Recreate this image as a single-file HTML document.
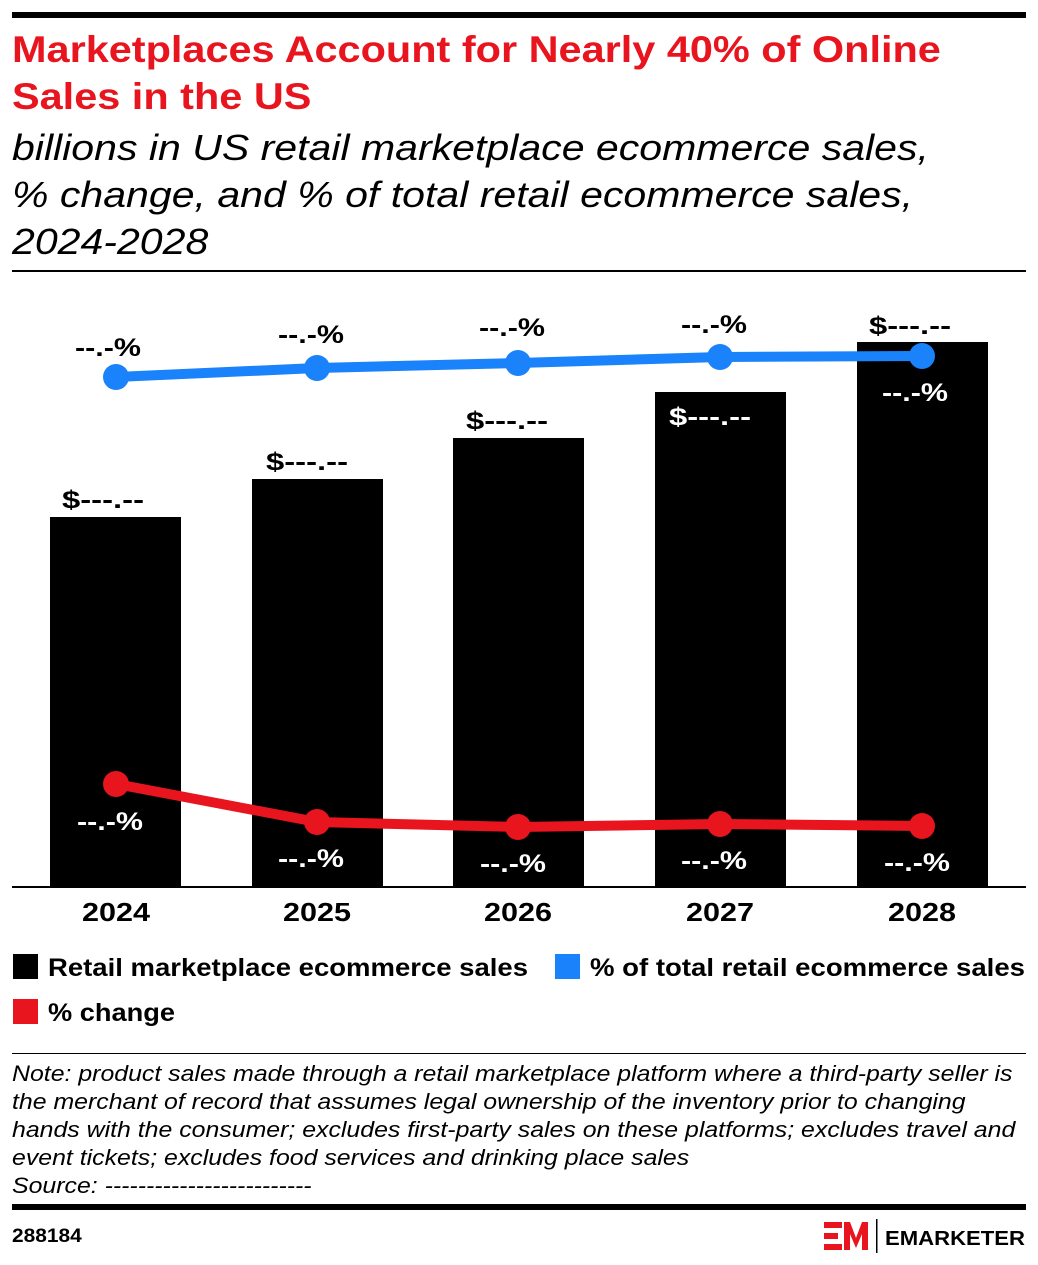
<!DOCTYPE html>
<html><head><meta charset="utf-8"><style>
body{margin:0;width:1038px;height:1265px;background:#fff;font-family:"Liberation Sans",sans-serif;position:relative;overflow:hidden}
.a{position:absolute;transform-origin:0 0;white-space:nowrap}
</style></head><body>
<div class="a" style="left:12px;top:26px;width:1014px;height:0"></div>
<div class="a" style="left:12px;top:12px;width:1014px;height:6px;background:#000"></div>
<div class="a" style="left:12px;top:26px;font-size:37px;font-weight:bold;color:#e8141e;line-height:47px;transform:scaleX(1.12)">Marketplaces Account for Nearly 40% of Online<br>Sales in the US</div>
<div class="a" style="left:12px;top:124px;font-size:36px;font-style:italic;line-height:47px;color:#000;transform:scaleX(1.14)">billions in US retail marketplace ecommerce sales,<br>% change, and % of total retail ecommerce sales,<br>2024-2028</div>
<div class="a" style="left:12px;top:270px;width:1014px;height:2px;background:#000"></div>
<svg class="a" style="left:0;top:0" width="1038" height="1265">
<g fill="#000">
<rect x="50" y="517" width="131" height="370"/>
<rect x="252" y="479" width="131" height="408"/>
<rect x="453" y="438" width="131" height="449"/>
<rect x="655" y="392" width="131" height="495"/>
<rect x="857" y="342" width="131" height="545"/>
</g>
<rect x="12" y="886" width="1014" height="2" fill="#000"/>
<polyline points="116,377 317,368 518,363 720,357 922,356" fill="none" stroke="#1a82fb" stroke-width="10"/>
<g fill="#1a82fb"><circle cx="116" cy="377" r="13"/><circle cx="317" cy="368" r="13"/><circle cx="518" cy="363" r="13"/><circle cx="720" cy="357" r="13"/><circle cx="922" cy="356" r="13"/></g>
<polyline points="116,784 317,822 518,827 720,824 922,826" fill="none" stroke="#e8141e" stroke-width="10"/>
<g fill="#e8141e"><circle cx="116" cy="784" r="13"/><circle cx="317" cy="822" r="13"/><circle cx="518" cy="827" r="13"/><circle cx="720" cy="824" r="13"/><circle cx="922" cy="826" r="13"/></g>
<g font-family="Liberation Sans" font-weight="bold" font-size="25" text-anchor="middle">
<text x="108" y="356" textLength="66" lengthAdjust="spacingAndGlyphs">--.-%</text><text x="311" y="343" textLength="66" lengthAdjust="spacingAndGlyphs">--.-%</text><text x="512" y="336" textLength="66" lengthAdjust="spacingAndGlyphs">--.-%</text><text x="714" y="333" textLength="66" lengthAdjust="spacingAndGlyphs">--.-%</text>
<text x="915" y="401" fill="#fff" textLength="66" lengthAdjust="spacingAndGlyphs">--.-%</text>
<text x="103" y="508" textLength="82" lengthAdjust="spacingAndGlyphs">$---.--</text><text x="307" y="470" textLength="82" lengthAdjust="spacingAndGlyphs">$---.--</text><text x="507" y="429" textLength="82" lengthAdjust="spacingAndGlyphs">$---.--</text>
<text x="710" y="425" fill="#fff" textLength="82" lengthAdjust="spacingAndGlyphs">$---.--</text><text x="910" y="334" textLength="82" lengthAdjust="spacingAndGlyphs">$---.--</text>
<g fill="#fff"><text x="110" y="830" textLength="66" lengthAdjust="spacingAndGlyphs">--.-%</text><text x="311" y="867" textLength="66" lengthAdjust="spacingAndGlyphs">--.-%</text><text x="513" y="872" textLength="66" lengthAdjust="spacingAndGlyphs">--.-%</text><text x="714" y="869" textLength="66" lengthAdjust="spacingAndGlyphs">--.-%</text><text x="917" y="871" textLength="66" lengthAdjust="spacingAndGlyphs">--.-%</text></g>
<g font-size="26"><text x="116" y="921" textLength="68" lengthAdjust="spacingAndGlyphs">2024</text><text x="317" y="921" textLength="68" lengthAdjust="spacingAndGlyphs">2025</text><text x="518" y="921" textLength="68" lengthAdjust="spacingAndGlyphs">2026</text><text x="720" y="921" textLength="68" lengthAdjust="spacingAndGlyphs">2027</text><text x="922" y="921" textLength="68" lengthAdjust="spacingAndGlyphs">2028</text></g>
</g>
<rect x="13" y="954" width="25" height="25" fill="#000"/>
<rect x="555" y="954" width="25" height="25" fill="#1a82fb"/>
<rect x="13" y="999" width="25" height="25" fill="#e8141e"/>
<g font-family="Liberation Sans" font-weight="bold" font-size="25">
<text x="48" y="976" textLength="480" lengthAdjust="spacingAndGlyphs">Retail marketplace ecommerce sales</text>
<text x="590" y="976" textLength="435" lengthAdjust="spacingAndGlyphs">% of total retail ecommerce sales</text>
<text x="48" y="1021" textLength="127" lengthAdjust="spacingAndGlyphs">% change</text>
</g>
</svg>
<div class="a" style="left:12px;top:1053px;width:1014px;height:1px;background:#000"></div>
<div class="a" style="left:12px;top:1060px;font-size:22.5px;font-style:italic;line-height:28px;color:#000;transform:scaleX(1.105)">Note: product sales made through a retail marketplace platform where a third-party seller is<br>the merchant of record that assumes legal ownership of the inventory prior to changing<br>hands with the consumer; excludes first-party sales on these platforms; excludes travel and<br>event tickets; excludes food services and drinking place sales<br>Source: -------------------------</div>
<div class="a" style="left:12px;top:1204px;width:1014px;height:6px;background:#000"></div>
<div class="a" style="left:12px;top:1226px;font-size:19px;font-weight:bold;transform:scaleX(1.1)">288184</div>
<svg class="a" style="left:818px;top:1218px" width="215" height="36">
<g fill="#e8141e"><rect x="6" y="4" width="18" height="6"/><rect x="6" y="15" width="14" height="6"/><rect x="6" y="26" width="18" height="6"/>
<polygon points="26,4 32,4 38,20 44,4 50,4 50,32 44,32 44,16 38,30 32,16 32,32 26,32"/></g>
<rect x="58" y="1" width="1.5" height="34" fill="#000"/>
<text x="67" y="27" font-family="Liberation Sans" font-weight="bold" font-size="20" textLength="140" lengthAdjust="spacingAndGlyphs">EMARKETER</text>
</svg>
</body></html>
